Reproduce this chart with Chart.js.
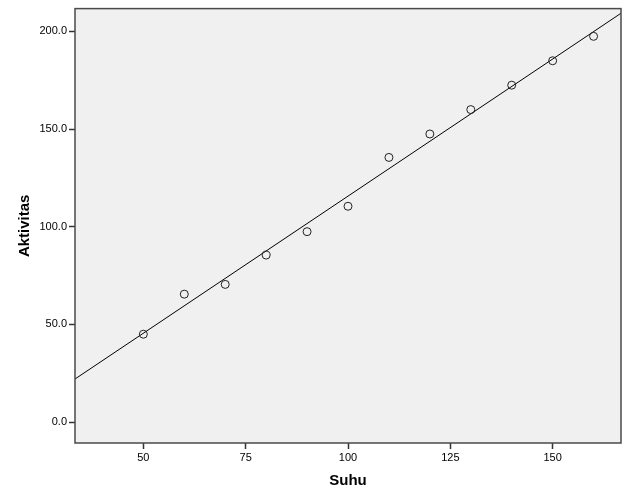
<!DOCTYPE html>
<html>
<head>
<meta charset="utf-8">
<script src="https://cdn.jsdelivr.net/npm/chart.js@4"></script>
<style>
  html, body { margin: 0; padding: 0; background: #fff; }
  canvas { display: block; }
</style>
</head>
<body>
<canvas id="scatterChart" width="629" height="504"></canvas>
<script>
// data
const suhu = [50, 60, 70, 80, 90, 100, 110, 120, 130, 140, 150, 160];
const aktivitas = [45, 65.5, 70.5, 85.5, 97.5, 110.5, 135.5, 147.5, 160, 172.5, 185, 197.5];

const xTicks = [50, 75, 100, 125, 150];
const yTicks = [0, 50, 100, 150, 200];
const yTickLabels = ["0.0", "50.0", "100.0", "150.0", "200.0"];

const xMin = 33.3, xMax = 166.7;
const yMin = -10.7, yMax = 211.7;

// least squares fit line
function fitLine(xs, ys) {
    const n = xs.length;
    const mx = xs.reduce((a, b) => a + b, 0) / n;
    const my = ys.reduce((a, b) => a + b, 0) / n;
    let sxy = 0, sxx = 0;
    for (let i = 0; i < n; i++) {
        sxy += (xs[i] - mx) * (ys[i] - my);
        sxx += (xs[i] - mx) * (xs[i] - mx);
    }
    const b = sxy / sxx;
    const a = my - b * mx;
    return [xMin, xMax].map((x) => ({ x: x, y: a + b * x }));
}

const points = suhu.map((x, i) => ({ x: x, y: aktivitas[i] }));

const plotFrame = {
    id: "plotFrame",
    beforeDraw(chart) {
        const { ctx, chartArea: a } = chart;
        ctx.save();
        ctx.fillStyle = "#f0f0f0";
        ctx.fillRect(a.left, a.top, a.right - a.left, a.bottom - a.top);
        ctx.restore();
    },
    afterDraw(chart) {
        const { ctx, chartArea: a } = chart;
        ctx.save();
        ctx.strokeStyle = "#4a4a4a";
        ctx.lineWidth = 1.5;
        ctx.strokeRect(a.left, a.top, a.right - a.left, a.bottom - a.top);
        ctx.restore();
    },
};

const tickFont = { family: "Liberation Sans, Arial, sans-serif", size: 11 };
const titleFont = { family: "Liberation Sans, Arial, sans-serif", size: 15, weight: "bold" };

new Chart(document.getElementById("scatterChart"), {
    type: "scatter",
    data: {
        datasets: [
            {
                data: points,
                pointRadius: 4,
                pointHoverRadius: 4,
                pointBorderWidth: 1,
                pointBorderColor: "#222",
                pointBackgroundColor: "rgba(0,0,0,0)",
            },
            {
                type: "line",
                data: fitLine(suhu, aktivitas),
                borderColor: "#000",
                borderWidth: 1,
                pointRadius: 0,
                fill: false,
            },
        ],
    },
    options: {
        responsive: false,
        animation: false,
        layout: { padding: { top: 5, right: 8, left: 0, bottom: 0 } },
        plugins: {
            legend: { display: false },
            tooltip: { enabled: false },
        },
        scales: {
            x: {
                type: "linear",
                min: xMin,
                max: xMax,
                afterBuildTicks: (axis) => {
                    axis.ticks = xTicks.map((v) => ({ value: v }));
                },
                afterFit: (axis) => {
                    axis.height = 61;
                },
                grid: {
                    drawOnChartArea: false,
                    tickLength: 6,
                    tickWidth: 1.5,
                    color: "#333",
                },
                border: { display: false },
                ticks: {
                    color: "#000",
                    font: tickFont,
                    padding: 2,
                    maxRotation: 0,
                },
                title: {
                    display: true,
                    text: "Suhu",
                    color: "#000",
                    font: titleFont,
                    padding: { top: 0, bottom: 14 },
                },
            },
            y: {
                type: "linear",
                min: yMin,
                max: yMax,
                afterBuildTicks: (axis) => {
                    axis.ticks = yTicks.map((v) => ({ value: v }));
                },
                afterFit: (axis) => {
                    axis.width = 75;
                },
                grid: {
                    drawOnChartArea: false,
                    tickLength: 6,
                    tickWidth: 1.5,
                    color: "#333",
                },
                border: { display: false },
                ticks: {
                    color: "#000",
                    font: tickFont,
                    padding: 2,
                    callback: (value) => yTickLabels[yTicks.indexOf(value)],
                },
                title: {
                    display: true,
                    text: "Aktivitas",
                    color: "#000",
                    font: titleFont,
                    padding: { top: 16, bottom: 0 },
                },
            },
        },
    },
    plugins: [plotFrame],
});
</script>
</body>
</html>
